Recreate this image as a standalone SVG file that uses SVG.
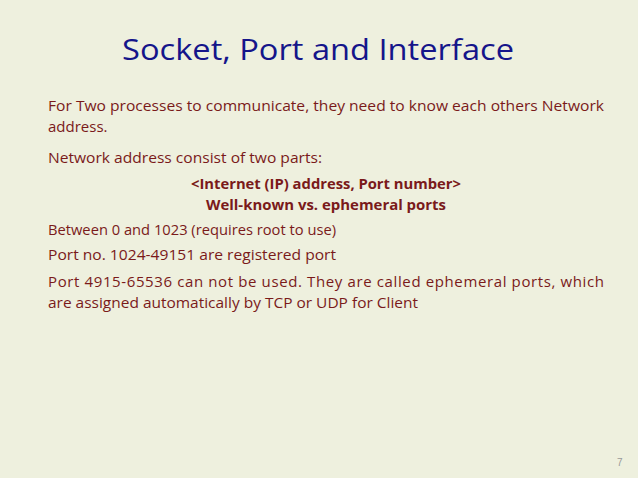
<svg xmlns="http://www.w3.org/2000/svg" width="638" height="478" viewBox="0 0 638 478">
<style>
.b{font-family:"Open Sans","Liberation Sans",sans-serif;font-size:15px;fill:#7a1a1a}
.c{text-anchor:middle;font-weight:bold;font-size:14px}
</style>
<rect width="638" height="478" fill="#eef0de"/>
<text x="318" y="60" text-anchor="middle" font-family="Open Sans, Liberation Sans, sans-serif" font-size="30" fill="#15158a" textLength="392" lengthAdjust="spacingAndGlyphs">Socket, Port and Interface</text>
<text class="b" x="48" y="111" textLength="556" lengthAdjust="spacingAndGlyphs">For Two processes to communicate, they need to know each others Network</text>
<text class="b" x="48" y="132">address.</text>
<text class="b" x="48" y="163" textLength="274" lengthAdjust="spacingAndGlyphs">Network address consist of two parts:</text>
<text class="b c" x="326" y="189" textLength="270" lengthAdjust="spacingAndGlyphs">&lt;Internet (IP) address, Port number&gt;</text>
<text class="b c" x="326" y="210" textLength="240" lengthAdjust="spacingAndGlyphs">Well-known vs. ephemeral ports</text>
<text class="b" x="48" y="235" textLength="288" lengthAdjust="spacingAndGlyphs">Between 0 and 1023 (requires root to use)</text>
<text class="b" x="48" y="260" textLength="288" lengthAdjust="spacingAndGlyphs">Port no. 1024-49151 are registered port</text>
<text class="b" x="48" y="287" textLength="556" lengthAdjust="spacing">Port 4915-65536 can not be used. They are called ephemeral ports, which</text>
<text class="b" x="48" y="308" textLength="370" lengthAdjust="spacingAndGlyphs">are assigned automatically by TCP or UDP for Client</text>
<text x="617" y="466" font-family="Liberation Sans, sans-serif" font-size="10" fill="#999">7</text>
</svg>
